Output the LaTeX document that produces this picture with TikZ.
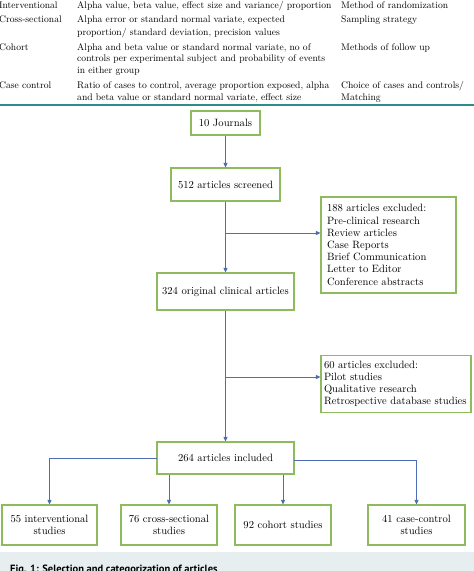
\documentclass[tikz,border=0pt]{standalone}
\usepackage{fontspec}
\newfontfamily\capfont{PT Sans}
\usetikzlibrary{arrows.meta}
\definecolor{boxgreen}{HTML}{8DBB5E}
\definecolor{arrowblue}{HTML}{4E6DB3}
\definecolor{tealline}{HTML}{2E8C8C}
\definecolor{capband}{HTML}{E6EEF0}
\newcommand{\tabline}[4]{\node[tabtext] (#1) at (#2,#3) {#4};}
\begin{document}
\begin{tikzpicture}[x=1pt,y=-1pt,
  tabtext/.style={anchor=base west, inner sep=0pt, font=\fontsize{9.6}{12}\selectfont},
  box/.style={draw=boxgreen, line width=1.1pt, inner sep=0pt, font=\fontsize{10.6}{12}\selectfont, align=center},
  exbox/.style={draw=boxgreen, line width=1.1pt, inner ysep=0pt, font=\fontsize{10.6}{12.2}\selectfont, align=left},
  arr/.style={draw=arrowblue, line width=0.8pt, -{Triangle[length=4.5pt,width=4pt]}}]
\useasboundingbox (0,0) rectangle (474,571);
\clip (0,0) rectangle (474,571);
\fill[white] (0,0) rectangle (474,571);
% table
\tabline{a1}{-1}{8}{Interventional}
\tabline{a2}{-1}{22.8}{Cross-sectional}
\tabline{a3}{-1}{50.2}{Cohort}
\tabline{a4}{-1}{88.5}{Case control}
\tabline{b1}{77}{8}{Alpha value, beta value, effect size and variance/ proportion}
\tabline{b2}{77}{22.8}{Alpha error or standard normal variate, expected}
\tabline{b3}{77}{35.2}{proportion/ standard deviation, precision values}
\tabline{b4}{77}{50.2}{Alpha and beta value or standard normal variate, no of}
\tabline{b5}{77}{61.8}{controls per experimental subject and probability of events}
\tabline{b6}{77}{73.5}{in either group}
\tabline{b7}{77}{88.5}{Ratio of cases to control, average proportion exposed, alpha}
\tabline{b8}{77}{100.8}{and beta value or standard normal variate, effect size}
\tabline{c1t}{341}{8}{Method of randomization}
\tabline{c2t}{341}{22.8}{Sampling strategy}
\tabline{c3t}{341}{50.2}{Methods of follow up}
\tabline{c4t}{341}{88.5}{Choice of cases and controls/}
\tabline{c5t}{341}{100.8}{Matching}
\draw[tealline, line width=2.5pt] (0,105) -- (474,105);
% flowchart
\node[box, minimum width=69pt, minimum height=24pt] (j10) at (225.5,123) {10 Journals};
\node[box, minimum width=109pt, minimum height=33pt] (s512) at (225.5,184.5) {512 articles screened};
\node[exbox, inner xsep=6pt, text width=123pt, minimum height=96pt] (ex188) at (388.5,245) {188 articles excluded:\\Pre-clinical research\\Review articles\\Case Reports\\Brief Communication\\Letter to Editor\\Conference abstracts};
\node[box, minimum width=137pt, minimum height=37pt] (o324) at (225.5,291.5) {324 original clinical articles};
\node[exbox, inner xsep=3pt, text width=144pt, minimum height=57pt] (ex60) at (396,384) {60 articles excluded:\\Pilot studies\\Qualitative research\\Retrospective database studies};
\node[box, minimum width=137pt, minimum height=32pt] (i264) at (225.5,458) {264 articles included};
\node[box, minimum width=95pt, minimum height=40pt] (k1) at (49.5,525) {55 interventional\\studies};
\node[box, minimum width=96pt, minimum height=40pt] (k2) at (169,525) {76 cross-sectional\\studies};
\node[box, minimum width=96pt, minimum height=40pt] (k3) at (283,525) {92 cohort studies};
\node[box, minimum width=97pt, minimum height=40pt] (k4) at (416.5,525) {41 case-control\\studies};
\coordinate (br1) at (226,233);
\coordinate (br2) at (226,377);
\coordinate (br3) at (157,458);
\coordinate (br4) at (294,460);
\draw[arr] (j10) -- (s512);
\draw[arr] (s512) -- (o324);
\draw[arr] (br1) -- (br1 -| ex188.west);
\draw[arr] (o324) -- (i264);
\draw[arr] (br2) -- (br2 -| ex60.west);
\draw[arr] (br3) -| (k1.north);
\draw[arr] (i264.south -| k2.north) -- (k2.north);
\draw[arr] (i264.south -| k3.north) -- (k3.north);
\draw[arr] (br4) -| (k4.north);
% caption
\fill[capband] (0,552) rectangle (474,571);
\node[anchor=base west, inner sep=0pt, font=\capfont\bfseries\fontsize{10.5}{12}\selectfont] (cap) at (10,572.5) {Fig. 1: Selection and categorization of articles};
\end{tikzpicture}
\end{document}
